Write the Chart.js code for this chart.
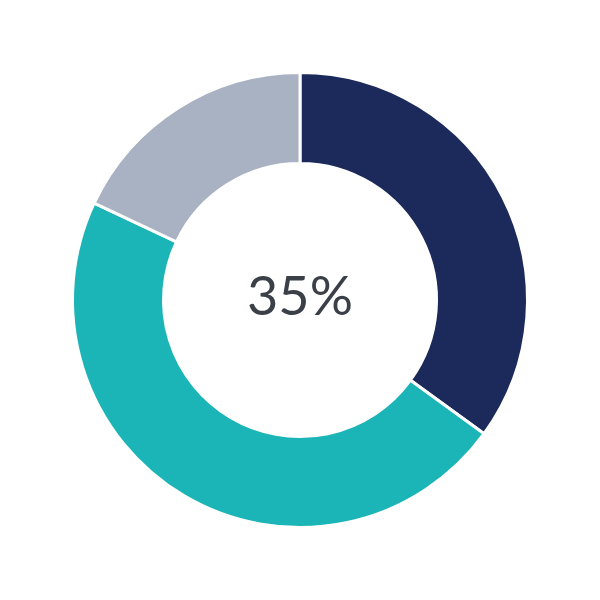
<!DOCTYPE html>
<html>
<head>
<meta charset="utf-8">
<script src="https://cdn.jsdelivr.net/npm/chart.js@4/dist/chart.umd.min.js"></script>
<style>
  html, body { margin: 0; padding: 0; background: #fff; }
  #wrap { width: 600px; height: 600px; }
</style>
</head>
<body>
<div id="wrap"><canvas id="donut"></canvas></div>
<script>
// Segment data (clockwise from 12 o'clock)
const labels = ['A', 'B', 'C'];
const values = [35, 47, 18];
const colors = ['#1b2a5a', '#1bb4b7', '#a8b2c2'];
const centerText = '35%';

// Text in the middle of the ring
const centerLabel = {
    id: 'centerLabel',
    afterDraw(chart) {
        const ctx = chart.ctx;
        const meta = chart.getDatasetMeta(0).data[0];
        ctx.save();
        ctx.font = '400 54px Lato, "Open Sans", sans-serif';
        ctx.fillStyle = '#3b4048';
        ctx.textAlign = 'center';
        ctx.textBaseline = 'middle';
        ctx.fillText(centerText, meta.x, meta.y - 2);
        ctx.restore();
    }
};

new Chart(document.getElementById('donut').getContext('2d'), {
    type: 'doughnut',
    data: {
        labels: labels,
        datasets: [{
            data: values,
            backgroundColor: colors,
            borderColor: '#ffffff',
            borderWidth: 3
        }]
    },
    options: {
        responsive: true,
        maintainAspectRatio: false,
        animation: false,
        cutout: '60%',
        layout: { padding: 71 },
        plugins: {
            legend: { display: false },
            tooltip: { enabled: false }
        }
    },
    plugins: [centerLabel]
});
</script>
</body>
</html>
